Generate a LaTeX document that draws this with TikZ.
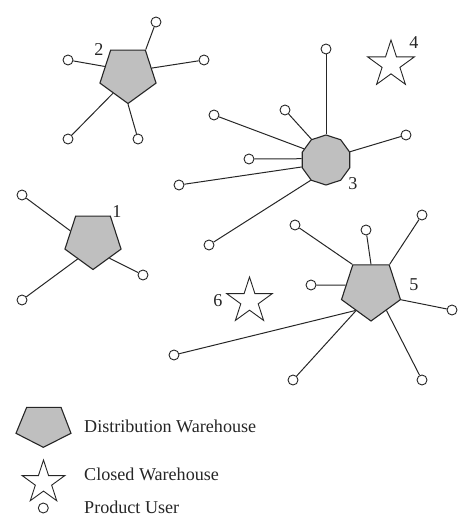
\documentclass[tikz,border=0pt]{standalone}
\usepackage{fontspec}
\setmainfont{Liberation Serif}
\usetikzlibrary{shapes.geometric}

\newcommand{\productuser}[3]{
	\node[user] (#1) at (#2) {};
	\draw[link] (#1) -- (#3);
}

\begin{document}
\begin{tikzpicture}[x=1pt,y=-1pt,font=\fontsize{18.1}{21}\selectfont,
	dist/.style={regular polygon,regular polygon sides=5,shape border rotate=180,draw=black!85,fill=black!25,line width=1.1pt,inner sep=0pt},
	closed/.style={star,star points=5,star point ratio=2.618,draw=black!85,line width=0.9pt,inner sep=0pt},
	user/.style={circle,draw=black!85,fill=white,line width=0.9pt,minimum size=10pt,inner sep=0pt},
	link/.style={draw=black!85,line width=1pt},
	num/.style={text=black!85,inner sep=0pt}]
	\useasboundingbox (0,0) rectangle (474,529);

	\node[dist,minimum size=59pt] (w1) at (93,240) {};
	\node[dist,minimum size=59pt] (w2) at (128,74) {};
	\node[dist,regular polygon sides=10,shape border rotate=18,minimum size=50pt] (w3) at (326,160) {};
	\node[closed,minimum size=49pt] (c4) at (391,64.5) {};
	\node[dist,minimum size=62pt] (w5) at (371,290) {};
	\node[closed,minimum size=48pt] (c6) at (249.5,301) {};

	\node[num] (n1) at (117,212) {1};
	\node[num] (n2) at (99,50) {2};
	\node[num] (n3) at (353,184) {3};
	\node[num] (n4) at (414,43) {4};
	\node[num] (n5) at (414,285) {5};
	\node[num] (n6) at (218,301) {6};

	\productuser{u11}{22,195}{w1.158}
	\productuser{u12}{143,275}{w1.312}
	\productuser{u13}{22,300}{w1.231}

	\productuser{u21}{156,22}{w2.54}
	\productuser{u22}{204,60}{w2.14}
	\productuser{u23}{68,60}{w2.162}
	\productuser{u24}{68,139}{w2.232}
	\productuser{u25}{138,139}{w2.270}

	\productuser{u31}{326,49}{w3.90}
	\productuser{u32}{285,110}{w3.125}
	\productuser{u33}{214,115}{w3.153}
	\productuser{u34}{249,159}{w3.177}
	\productuser{u35}{179,185}{w3.196}
	\productuser{u36}{209,245}{w3.233}
	\productuser{u37}{406,135}{w3.19}

	\productuser{u51}{295,225}{w5.126}
	\productuser{u52}{366,230}{w5.90}
	\productuser{u53}{422,215}{w5.54}
	\productuser{u54}{311,285}{w5.169}
	\productuser{u55}{452,310}{w5.342}
	\productuser{u56}{174,355}{w5.233}
	\productuser{u57}{293,380}{w5.234}
	\productuser{u58}{422,380}{w5.307}

	\draw[draw=black!85,fill=black!25,line width=1.1pt] (26.7,407.3) -- (61,407.3) -- (71,433.3) -- (43.3,447.3) -- (16,433.3) -- cycle;
	\node[closed,minimum size=45pt] (kc) at (43.5,482.5) {};
	\node[user] (ku) at (43.3,508) {};
	\node[anchor=west,text=black!85,inner sep=0pt] (t1) at (84,426) {Distribution Warehouse};
	\node[anchor=west,text=black!85,inner sep=0pt] (t2) at (84,474) {Closed Warehouse};
	\node[anchor=west,text=black!85,inner sep=0pt] (t3) at (84,507) {Product User};
\end{tikzpicture}
\end{document}
